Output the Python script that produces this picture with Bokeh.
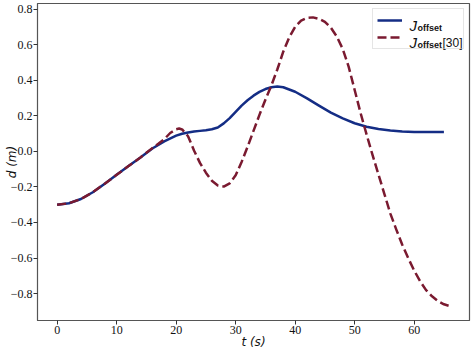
import math
from bokeh.plotting import figure
from bokeh.models import (Range1d, FixedTicker, CustomJSTickFormatter, Legend,
                          LegendItem, Label)
from bokeh.embed import file_html
from bokeh.resources import INLINE

# ---- data ----
t_offset = [0, 2, 4, 6, 8, 10, 12, 14, 16, 18, 20, 21, 22, 23, 24, 25, 26, 27,
            28, 29, 30, 31, 32, 33, 34, 35, 36, 37, 38, 40, 42, 44, 46, 48,
            50, 52, 54, 56, 58, 60, 62, 65]
d_offset = [-0.300, -0.292, -0.268, -0.230, -0.182, -0.132, -0.083, -0.035,
            0.016, 0.056, 0.088, 0.099, 0.106, 0.111, 0.115, 0.119, 0.124,
            0.134, 0.157, 0.187, 0.222, 0.257, 0.287, 0.313, 0.334, 0.350,
            0.360, 0.364, 0.360, 0.335, 0.298, 0.257, 0.218, 0.185, 0.158,
            0.138, 0.125, 0.117, 0.112, 0.109, 0.108, 0.108]

t_offset30 = [0, 2, 4, 6, 8, 10, 12, 14, 16, 17, 18, 19, 20, 20.5, 21, 22, 23,
              24, 25, 26, 27, 28, 29, 30, 31, 32, 33, 34, 35, 36, 37, 38, 39,
              40, 41, 42, 43, 44, 45, 46, 47, 48, 49, 50, 51, 52, 53, 54, 55,
              56, 57, 58, 59, 60, 61, 62, 63, 64, 65, 66]
d_offset30 = [-0.300, -0.292, -0.268, -0.230, -0.182, -0.132, -0.083, -0.035,
              0.018, 0.042, 0.068, 0.103, 0.124, 0.128, 0.123, 0.085, 0.005,
              -0.065, -0.120, -0.165, -0.192, -0.198, -0.180, -0.135, -0.060,
              0.025, 0.115, 0.205, 0.290, 0.370, 0.460, 0.560, 0.640, 0.700,
              0.735, 0.750, 0.753, 0.745, 0.728, 0.695, 0.645, 0.575, 0.475,
              0.345, 0.215, 0.095, -0.020, -0.130, -0.240, -0.350, -0.440,
              -0.525, -0.600, -0.670, -0.730, -0.780, -0.815, -0.842, -0.860,
              -0.870]

x_ticks = [0, 10, 20, 30, 40, 50, 60]
y_ticks = [-0.8, -0.6, -0.4, -0.2, 0.0, 0.2, 0.4, 0.6, 0.8]

BLUE = "#142d85"
RED = "#7a1a30"
W, H = 474, 351
FL, FR, FT, FB = 37, 5, 3, 30

p = figure(width=W, height=H, output_backend="svg", toolbar_location=None,
           x_range=Range1d(-3.3, 69.3), y_range=Range1d(-0.951, 0.831),
           min_border_left=FL, min_border_right=FR, min_border_top=FT,
           min_border_bottom=FB)
p.xgrid.visible = False
p.ygrid.visible = False
p.outline_line_color = "#555555"
p.outline_line_width = 1.2

for ax in (p.xaxis[0], p.yaxis[0]):
    ax.axis_line_color = "#555555"
    ax.major_tick_line_color = "#333333"
    ax.major_tick_in = 0
    ax.major_tick_out = 4
    ax.minor_tick_line_color = None
    ax.major_label_text_font = "Liberation Serif"
    ax.major_label_text_font_size = "12px"
    ax.major_label_text_color = "#111111"
    ax.axis_label_text_font = "DejaVu Sans"
    ax.axis_label_text_font_size = "12px"
    ax.axis_label_text_font_style = "italic"
    ax.axis_label_text_color = "#111111"

p.xaxis.major_label_standoff = 1
p.yaxis.major_label_standoff = 1
p.xaxis.axis_label_standoff = -2
p.yaxis.axis_label_standoff = -11
p.xaxis.axis_label = "t (s)"
p.yaxis.axis_label = "d (m)"

p.xaxis.ticker = FixedTicker(ticks=x_ticks)
p.yaxis.ticker = FixedTicker(ticks=y_ticks)
p.yaxis.formatter = CustomJSTickFormatter(
    code="return tick.toFixed(1).replace('-', '\u2212');")
p.xaxis.formatter = CustomJSTickFormatter(
    code="return tick.toFixed(0).replace('-', '\u2212');")

r1 = p.line(t_offset, d_offset, line_color=BLUE, line_width=2.5,
            line_join="round")
r2 = p.line(t_offset30, d_offset30, line_color=RED, line_width=2.5,
            line_dash="9 4", line_join="round")

legend = Legend(items=[LegendItem(label=" ", renderers=[r1]),
                       LegendItem(label=" ", renderers=[r2])],
                location="top_right", orientation="vertical",
                glyph_width=25, glyph_height=14, label_width=51,
                label_height=14, label_standoff=6, padding=4, spacing=3,
                margin=5, label_text_font_size="10px",
                border_line_color="#cccccc", border_line_width=1,
                background_fill_color=None)
p.add_layout(legend)


def lab(x, y, text, size, style="normal", font="Liberation Sans"):
    # x, y in canvas pixels from top-left; converted to frame screen units
    p.add_layout(Label(x=x - FL, y=(H - FB) - y, x_units="screen",
                       y_units="screen", text=text, text_font=font,
                       text_font_size=size, text_font_style=style,
                       text_baseline="alphabetic", text_align="left",
                       text_color="#111111"))


# legend texts
lab(409, 26, "J", "15px", "italic")
lab(417, 28, "offset", "9px", "bold")
lab(409, 43, "J", "15px", "italic")
lab(417, 45, "offset", "9px", "bold")
lab(442, 43, "[30]", "12px")

open("out.html", "w").write(file_html(p, INLINE))
